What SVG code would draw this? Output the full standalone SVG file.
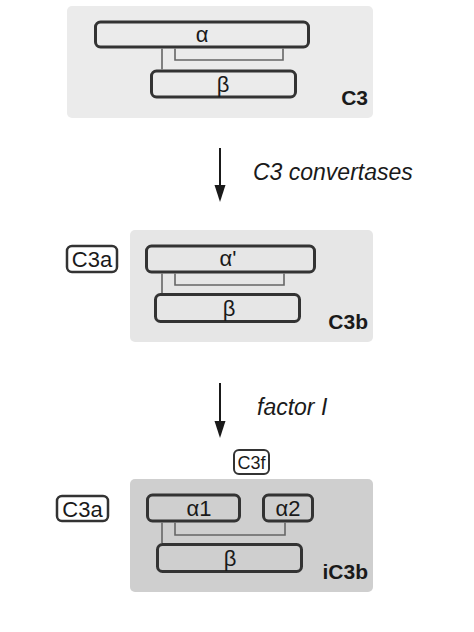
<svg xmlns="http://www.w3.org/2000/svg" width="474" height="632" viewBox="0 0 474 632">
<style>
.bg1{fill:#ebebeb}
.bg2{fill:#e6e6e6}
.bg3{fill:#cfcfcf}
.chain{stroke:#333;stroke-width:3;}
.frag{fill:#fff;stroke:#333;stroke-width:2.5}
.fragS{fill:#fff;stroke:#333;stroke-width:2}
.link{fill:none;stroke:#666;stroke-width:1.6}
.t{font-family:"Liberation Sans",Arial,sans-serif;font-size:22px;fill:#1a1a1a;text-anchor:middle}
.lbl{font-family:"Liberation Sans",Arial,sans-serif;font-size:21px;font-weight:bold;fill:#1a1a1a;text-anchor:end}
.it{font-family:"Liberation Sans",Arial,sans-serif;font-size:23px;font-style:italic;fill:#1a1a1a}
.arr{stroke:#1a1a1a;stroke-width:2}
.head{fill:#1a1a1a}
</style>
<g id="C3">
<rect class="bg1" x="67" y="6" width="306" height="112" rx="5"/>
<rect class="chain bg1" x="95.5" y="22" width="213" height="25" rx="5"/>
<rect class="chain bg1" x="151.5" y="71" width="144" height="26" rx="5"/>
<path class="link" d="M162 48.5V69.5M175 48.5V60H283V48.5"/>
<text class="t" x="202" y="42">α</text>
<text class="t" x="223" y="92">β</text>
<text class="lbl" x="368" y="105">C3</text>
</g>
<g id="C3b">
<rect class="bg2" x="130" y="230" width="243" height="112" rx="5"/>
<rect class="chain bg2" x="146.5" y="246" width="168" height="26" rx="5"/>
<rect class="chain bg2" x="155.5" y="294.5" width="144" height="27" rx="5"/>
<path class="link" d="M162 273.5V293M175 273.5V285H284V273.5"/>
<text class="t" x="228" y="266">α'</text>
<text class="t" x="229" y="316">β</text>
<text class="lbl" x="368" y="329">C3b</text>
</g>
<g id="C3a_1">
<rect class="frag" x="67" y="246" width="50" height="26" rx="5"/>
<text class="t" x="92" y="267">C3a</text>
</g>
<g id="iC3b">
<rect class="bg3" x="130" y="479" width="243" height="113" rx="5"/>
<rect class="chain bg3" x="147.5" y="495" width="92" height="26" rx="5"/>
<rect class="chain bg3" x="263.5" y="495" width="49" height="26" rx="5"/>
<rect class="chain bg3" x="157.5" y="544.5" width="144" height="27" rx="5"/>
<path class="link" d="M162 522.5V543M175 522.5V535H285V522.5"/>
<text class="t" x="199" y="516">α1</text>
<text class="t" x="288" y="516">α2</text>
<text class="t" x="230" y="566">β</text>
<text class="lbl" x="368" y="579">iC3b</text>
</g>
<g id="C3a_2">
<rect class="frag" x="57" y="496" width="51" height="25" rx="5"/>
<text class="t" x="82.5" y="516.5">C3a</text>
</g>
<g id="C3f">
<rect class="fragS" x="234" y="450" width="35" height="24" rx="5"/>
<text class="t" x="251.5" y="468.5" style="font-size:18px">C3f</text>
</g>
<g id="connectors">
<line class="arr" x1="220" y1="148" x2="220" y2="188"/>
<polygon class="head" points="214.5,185 225.5,185 220,202"/>
<line class="arr" x1="220" y1="383" x2="220" y2="424"/>
<polygon class="head" points="214.5,421 225.5,421 220,438"/>
<text class="it" x="253" y="180">C3 convertases</text>
<text class="it" x="257" y="415">factor I</text>
</g>
</svg>
